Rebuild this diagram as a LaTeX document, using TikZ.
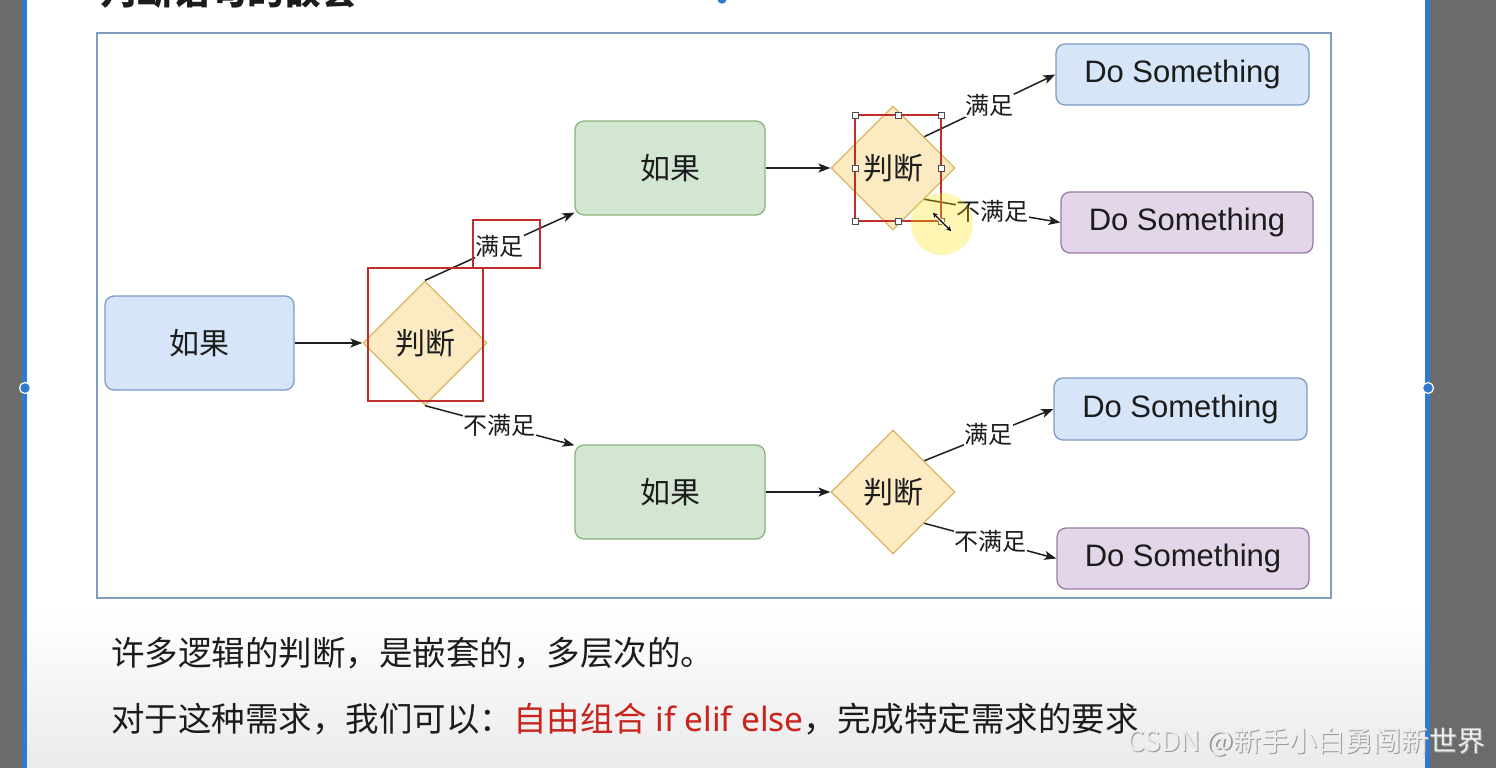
\documentclass[tikz,border=0pt]{standalone}
\usepackage{fontspec}
\usetikzlibrary{shapes.geometric,arrows.meta}
\newfontfamily\cjk{Noto Sans CJK SC}
\newfontfamily\lat{Liberation Sans}
\newfontfamily\latb{Noto Sans}
\definecolor{bfill}{HTML}{D6E5F8}
\definecolor{bdraw}{HTML}{7D9BC6}
\definecolor{gfill}{HTML}{D3E6D2}
\definecolor{gdraw}{HTML}{8DB37E}
\definecolor{yfill}{HTML}{FCEBC2}
\definecolor{ydraw}{HTML}{D8B85E}
\definecolor{pfill}{HTML}{E2D6E8}
\definecolor{pdraw}{HTML}{9A7AAA}
\definecolor{framec}{HTML}{7F9DC0}
\definecolor{redc}{HTML}{BF2F2A}
\definecolor{txt}{HTML}{1C1C1C}
\definecolor{sidegray}{HTML}{6B6B6B}
\definecolor{sideblue}{HTML}{3277D0}
\definecolor{textred}{HTML}{C8231C}
\begin{document}
\begin{tikzpicture}[x=1pt,y=-1pt,
  box/.style={draw, rounded corners=9pt, line width=1.3pt, inner sep=0pt, text=txt},
  ifbox/.style={box, minimum width=190pt, minimum height=94pt, font=\cjk\fontsize{30}{32}\selectfont},
  dobox/.style={box, minimum width=253pt, minimum height=61pt, font=\lat\fontsize{31}{34}\selectfont},
  dec/.style={diamond, aspect=1, draw=ydraw, fill=yfill, line width=1.3pt, inner sep=0pt,
    minimum width=124pt, minimum height=124pt, text=txt, font=\cjk\fontsize{30}{32}\selectfont},
  arr/.style={-{Stealth[length=12pt,width=9pt,inset=3pt]}, line width=1.5pt, draw=black!88},
  lab/.style={fill=white, inner sep=0.5pt, text=txt, font=\cjk\fontsize{24}{26}\selectfont},
  redbox/.style={draw=redc, line width=1.8pt},
  handle/.style={draw=black!70, fill=white, line width=0.8pt, minimum size=6pt, inner sep=0pt, rectangle},
  bluedot/.style={circle, fill=sideblue, draw=white, line width=1.2pt, minimum size=11pt, inner sep=0pt},
  body/.style={anchor=west, text=txt, font=\cjk\fontsize{33.5}{38}\selectfont, inner sep=0pt}
]
\useasboundingbox (0,0) rectangle (1496,768);
% slide background
\fill[white] (0,0) rectangle (1496,768);
\shade[top color=white, bottom color=black!8] (27,610) rectangle (1425,768);
\fill[sidegray] (0,0) rectangle (22,768);
\fill[sidegray] (1430,0) rectangle (1496,768);
\fill[sideblue] (22,0) rectangle (27,768);
\fill[sideblue] (1425,0) rectangle (1430,768);
\node[bluedot] (hl) at (25,388) {};
\node[bluedot] (hr) at (1428,388) {};
\node[bluedot] (ht) at (722,-1) {};

% title (cut off at the top, as in the screenshot)
\node[anchor=west, inner sep=0pt, text=txt, font=\cjk\bfseries\fontsize{37}{40}\selectfont] (title) at (99,-10) {判断语句的嵌套};

% diagram frame
\draw[framec, line width=1.8pt] (97,33) rectangle (1331,598);

% nodes
\node[ifbox, fill=bfill, draw=bdraw, minimum width=189pt] (r0) at (199.5,343) {如果};
\node[dec] (d1) at (425,343) {判断};
\node[ifbox, fill=gfill, draw=gdraw] (g1) at (670,168) {如果};
\node[ifbox, fill=gfill, draw=gdraw] (g2) at (670,492) {如果};
\node[dec] (d2) at (893,168) {判断};
\node[dec] (d3) at (893,492) {判断};
\node[dobox, fill=bfill, draw=bdraw] (s1) at (1182.5,74.5) {Do Something};
\node[dobox, fill=pfill, draw=pdraw, minimum width=252pt] (s2) at (1187,222.5) {Do Something};
\node[dobox, fill=bfill, draw=bdraw, minimum height=62pt] (s3) at (1180.5,409) {Do Something};
\node[dobox, fill=pfill, draw=pdraw, minimum width=252pt] (s4) at (1183,558.5) {Do Something};

% connectors
\draw[arr] (r0.east) -- (d1.west);
\draw[arr] (d1.north) -- node[lab] {满足} ([yshift=3pt]g1.south west);
\draw[arr] (d1.south) -- node[lab] {不满足} ([yshift=-1pt]g2.north west);
\draw[arr] (g1.east) -- (d2.west);
\draw[arr] (g2.east) -- (d3.west);
\draw[arr] (d2.north east) -- node[lab] {满足} (s1.west);
\draw[arr] (d2.south east) -- node[lab] {不满足} (s2.west);
\draw[arr] (d3.north east) -- node[lab] {满足} (s3.west);
\draw[arr] (d3.south east) -- node[lab] {不满足} (s4.west);

% selection marks
\draw[redbox] (368,268) rectangle (483,401);
\draw[redbox] (473,220) rectangle (540,268);
\draw[redbox] (855,115) rectangle (941,221);
\foreach \hx/\hy [count=\i] in {855/115,898/115,941/115,855/168,941/168,855/221,898/221,941/221}
  \node[handle] (hd\i) at (\hx,\hy) {};
\fill[yellow!85!orange, opacity=0.3] (942,224) circle (31);
\draw[white, line width=3.2pt, line cap=round] (934,214) -- (950,230);
\draw[black, line width=1.1pt, {Stealth[length=4.5pt,width=5pt]}-{Stealth[length=4.5pt,width=5pt]}] (933,213) -- (951,231);

% body text
\node[body] (t1) at (111,653) {许多逻辑的判断，是嵌套的，多层次的。};
\node[body] (t2) at (111,719) {对于这种需求，我们可以：\textcolor{textred}{自由组合{\latb\ if elif else}}，完成特定需求的要求};

% watermark
\node[anchor=west, inner sep=0pt, text=black!40, font=\cjk\fontsize{28}{30}\selectfont] (wm0) at (1128.3,743.3) {CSDN @新手小白勇闯新世界};
\node[anchor=west, inner sep=0pt, text=black!7, font=\cjk\fontsize{28}{30}\selectfont] (wm) at (1127.2,742.2) {CSDN @新手小白勇闯新世界};
\end{tikzpicture}
\end{document}
